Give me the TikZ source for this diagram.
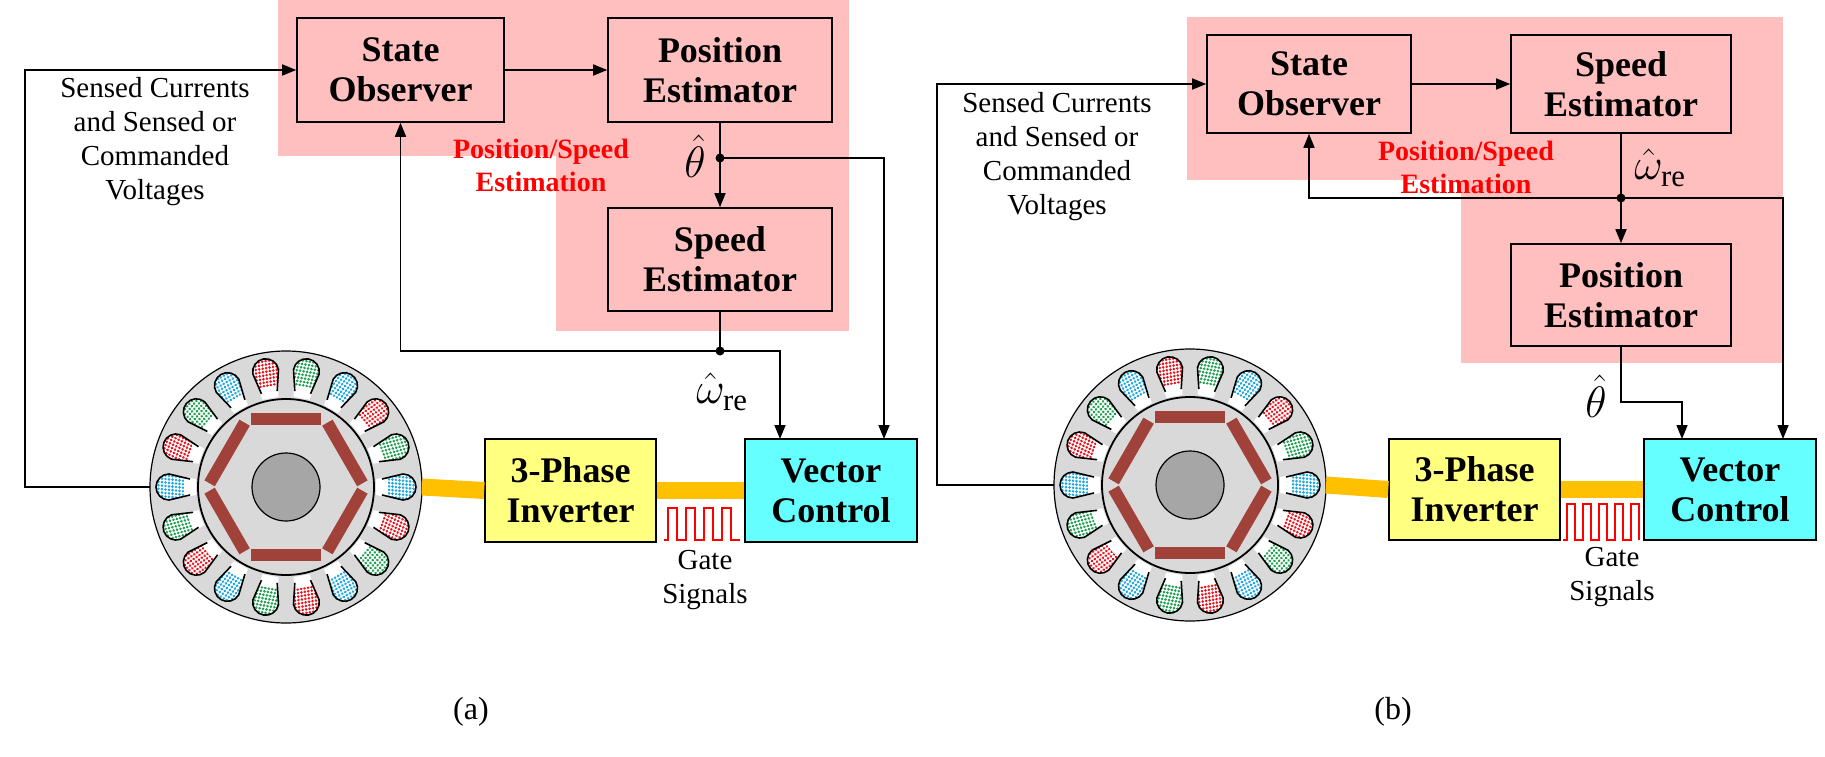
\documentclass[tikz,border=0pt]{standalone}
\usepackage{fix-cm}
\usepackage{fontspec}
\setmainfont{Liberation Serif}
\usetikzlibrary{arrows.meta}
\definecolor{pinkbg}{HTML}{FFBFBF}
\definecolor{yel}{HTML}{FFFF80}
\definecolor{cyn}{HTML}{66FFFF}
\definecolor{org}{HTML}{FFC000}
\definecolor{brn}{HTML}{A0413A}
\definecolor{slotR}{HTML}{E8141E}
\definecolor{slotG}{HTML}{1FA050}
\definecolor{slotB}{HTML}{1EA8E0}
\definecolor{mgray}{HTML}{D9D9D9}
\definecolor{sgray}{HTML}{A6A6A6}
\tikzset{
 blk/.style={draw,line width=1.6pt,align=center,font=\fontsize{36}{40}\selectfont\bfseries,inner sep=0pt},
 arr/.style={line width=1.6pt,-{Triangle[length=14pt,width=11pt]}},
 ln/.style={line width=1.6pt},
 bus/.style={draw=org,line width=17pt},
 lbl/.style={align=center,font=\fontsize{29}{34}\selectfont},
 redlbl/.style={align=center,text=red,font=\fontsize{28}{33}\selectfont\bfseries},
 mth/.style={font=\fontsize{44}{44}\selectfont},
 dot/.style={circle,fill,inner sep=0pt,minimum size=9pt},
}
\newcommand\mymotor[2]{%
 \begin{scope}[shift={(#1)}]
  \fill[mgray,draw=black,line width=1.2pt] (0,0) circle (136);
  \foreach \k in {0,...,17}{
   \pgfmathtruncatemacro\c{mod(\k,3)}
   \ifcase\c \def\sc{slotB}\or\def\sc{slotR}\or\def\sc{slotG}\fi
   \begin{scope}[rotate=-20*\k]
    \path[fill=white] (90,-8) -- (117,-13) arc[start angle=-90,end angle=90,radius=13] -- (90,8) -- cycle;
    \begin{scope}
     \clip (102,-9.5) -- (117,-13) arc[start angle=-90,end angle=90,radius=13] -- (102,9.5) -- cycle;
     \foreach \r in {103,106.5,...,133}{\foreach \t in {-14,-10.5,...,14}{\fill[\sc] (\r,\t+0.1*\r-11) circle (1.45);}}
    \end{scope}
    \draw[line width=1.6pt] (96,-8) -- (117,-13) arc[start angle=-90,end angle=90,radius=13] -- (96,8);
   \end{scope}}
  \fill[mgray,draw=black,line width=1.8pt] (0,0) circle (88);
  \foreach \a in {30,90,...,330}{
   \fill[brn,rotate=\a] (62,-35) rectangle (74,35);}
  \fill[sgray,draw=black,line width=1.2pt] (0,0) circle (34);
  \coordinate (#2W) at (-136,0);
  \coordinate (#2E) at (136,0);
 \end{scope}}
\begin{document}
\begin{tikzpicture}[x=1pt,y=-1pt]
\useasboundingbox[fill=white] (0,0) rectangle (1825,757);
% ---------- (a)
\fill[pinkbg] (278,0) rectangle (849,156);
\fill[pinkbg] (556,156) rectangle (849,331);
\node[blk,minimum width=207,minimum height=104] (aSO) at (400.5,70) {State\\Observer};
\node[blk,minimum width=224,minimum height=104] (aPE) at (720,70) {Position\\Estimator};
\node[blk,minimum width=224,minimum height=103] (aSE) at (720,259.5) {Speed\\Estimator};
\node[blk,fill=yel,minimum width=171,minimum height=103] (aInv) at (570.5,490.5) {3-Phase\\Inverter};
\node[blk,fill=cyn,minimum width=172,minimum height=103] (aVC) at (831,490.5) {Vector\\Control};
\node[redlbl] (aRed) at (541,165) {Position/Speed\\Estimation};
\node[lbl] (aSens) at (155,142) {Sensed Currents\\and Sensed or\\Commanded\\Voltages};
\mymotor{286,487}{aM}
\coordinate (aJ1) at (720,158);
\coordinate (aJ2) at (720,351);
\coordinate (aV1) at (884,439);
\coordinate (aV2) at (780,439);
\draw[arr] (aSO.east) -- (aPE.west);
\draw[arr] (aPE.south) -- (aSE.north);
\node[dot] (aD1) at (aJ1) {};
\draw[arr] (aJ1) -| (aV1);
\draw[ln] (aSE.south) -- (aJ2);
\node[dot] (aD2) at (aJ2) {};
\draw[arr] (aJ2) -| (aSO.south);
\draw[arr] (aJ2) -| (aV2);
\draw[arr] (aMW) -- (25,487) -- (25,70) -- (aSO.west);
\draw[bus] (aME) -- (aInv.west);
\draw[bus] (aInv.east) -- (aVC.west);
\node[mth] (aTh) at (695,156) {$\hat{\theta}$};
\node[mth] (aOm) at (722,392) {$\hat{\omega}_{\mathrm{re}}$};
\draw[red,line width=1.6pt] (664,540) -- (668,540) -- (668,508) -- (677,508) -- (677,540) -- (686,540) -- (686,508) -- (695,508) -- (695,540) -- (704,540) -- (704,508) -- (713,508) -- (713,540) -- (722,540) -- (722,508) -- (731,508) -- (731,540) -- (740,540);
\node[lbl] (aGate) at (705,580) {Gate\\Signals};
\node[font=\fontsize{32}{32}\selectfont] (aCap) at (471,712) {(a)};
% ---------- (b)
\fill[pinkbg] (1187,17) rectangle (1783,180);
\fill[pinkbg] (1461,180) rectangle (1783,363);
\node[blk,minimum width=204,minimum height=98] (bSO) at (1309,84) {State\\Observer};
\node[blk,minimum width=220,minimum height=98] (bSE) at (1621,84) {Speed\\Estimator};
\node[blk,minimum width=220,minimum height=102] (bPE) at (1621,295) {Position\\Estimator};
\node[blk,fill=yel,minimum width=171,minimum height=101] (bInv) at (1474.5,489.5) {3-Phase\\Inverter};
\node[blk,fill=cyn,minimum width=172,minimum height=101] (bVC) at (1730,489.5) {Vector\\Control};
\node[redlbl] (bRed) at (1466,167) {Position/Speed\\Estimation};
\node[lbl] (bSens) at (1057,157) {Sensed Currents\\and Sensed or\\Commanded\\Voltages};
\mymotor{1190,485}{bM}
\coordinate (bJ) at (1621,198);
\coordinate (bV1) at (1783,439);
\coordinate (bV2) at (1682,439);
\coordinate (bK) at (1621,402);
\draw[arr] (bSO.east) -- (bSE.west);
\draw[arr] (bSE.south) -- (bPE.north);
\node[dot] (bD) at (bJ) {};
\draw[arr] (bJ) -| (bSO.south);
\draw[arr] (bJ) -| (bV1);
\draw[arr] (bPE.south) -- (bK) -| (bV2);
\draw[arr] (bMW) -- (937,485) -- (937,84) -- (bSO.west);
\draw[bus] (bME) -- (bInv.west);
\draw[bus] (bInv.east) -- (bVC.west);
\node[mth] (bTh) at (1596,396) {$\hat{\theta}$};
\node[mth] (bOm) at (1660,168) {$\hat{\omega}_{\mathrm{re}}$};
\draw[red,line width=1.6pt] (1563,540) -- (1567,540) -- (1567,504) -- (1575,504) -- (1575,540) -- (1583,540) -- (1583,504) -- (1591,504) -- (1591,540) -- (1599,540) -- (1599,504) -- (1607,504) -- (1607,540) -- (1615,540) -- (1615,504) -- (1623,504) -- (1623,540) -- (1631,540) -- (1631,504) -- (1639,504) -- (1639,540);
\node[lbl] (bGate) at (1612,577) {Gate\\Signals};
\node[font=\fontsize{32}{32}\selectfont] (bCap) at (1393,712) {(b)};
\end{tikzpicture}
\end{document}
